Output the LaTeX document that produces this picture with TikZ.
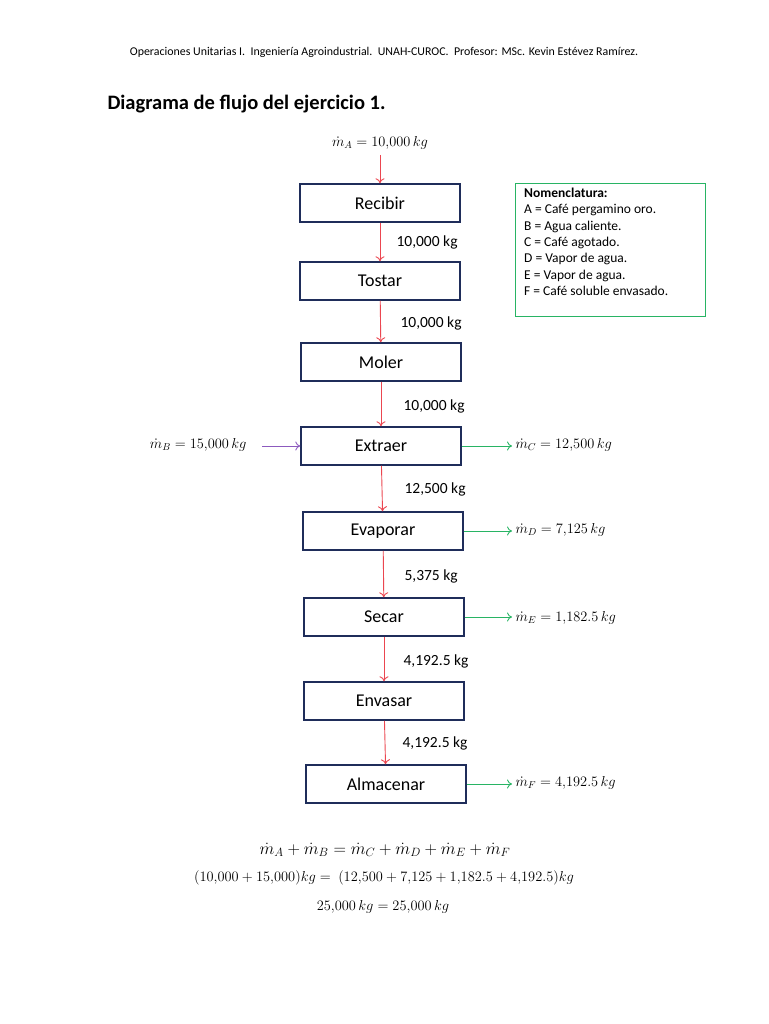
\documentclass[tikz,border=0pt]{standalone}
\usepackage{amsmath}
\usepackage{fontspec}
\setmainfont{Carlito}
\usetikzlibrary{arrows.meta}
\definecolor{navy}{RGB}{31,45,90}
\definecolor{rd}{RGB}{235,70,80}
\definecolor{gr}{RGB}{40,180,100}
\definecolor{pu}{RGB}{140,90,190}
\begin{document}
\begin{tikzpicture}[x=1pt,y=-1pt,
  box/.style={draw=navy,line width=1.5pt,minimum width=160pt,minimum height=38pt,font=\fontsize{18}{21}\selectfont,inner sep=0pt},
  ra/.style={draw=rd,line width=0.9pt,-{To[length=5pt,width=9pt]}},
  ga/.style={draw=gr,line width=0.9pt,-{To[length=5pt,width=9pt]}},
  pa/.style={draw=pu,line width=0.9pt,-{To[length=5pt,width=9pt]}},
  lb/.style={font=\fontsize{15.5}{18}\selectfont,anchor=west},
  mt/.style={font=\fontsize{14.5}{17}\selectfont,anchor=west}]
\useasboundingbox (0,0) rectangle (768,1024);
\node[font=\fontsize{11.9}{14}\selectfont] (hdr) at (384,52) {Operaciones Unitarias I.\ \ Ingeniería Agroindustrial.\ \ UNAH-CUROC.\ \ Profesor: MSc. Kevin Estévez Ramírez.};
\node[font=\bfseries\fontsize{20.5}{24}\selectfont,anchor=west] (tit) at (104,104) {Diagrama de flujo del ejercicio 1.};
\node[mt,anchor=center] (mA) at (380,143) {$\dot m_A = 10{,}000\,kg$};
\coordinate (pA) at (380,155);
\node[box] (b1) at (380,203) {Recibir};
\node[box] (b2) at (380,281) {Tostar};
\node[box] (b3) at (381,362) {Moler};
\node[box] (b4) at (381,446) {Extraer};
\node[box] (b5) at (383,531) {Evaporar};
\node[box] (b6) at (384,617) {Secar};
\node[box] (b7) at (384,701) {Envasar};
\node[box] (b8) at (386,784) {Almacenar};
\draw[ra] (pA) -- (b1);
\draw[ra] (b1) -- (b2);
\draw[ra] (b2) -- (b3);
\draw[ra] (b3) -- (b4);
\draw[ra] (b4) -- (b5);
\draw[ra] (b5) -- (b6);
\draw[ra] (b6) -- (b7);
\draw[ra] (b7) -- (b8);
\node[lb] (l1) at (393,242) {10,000 kg};
\node[lb] (l2) at (397,323) {10,000 kg};
\node[lb] (l3) at (400,406) {10,000 kg};
\node[lb] (l4) at (401,489) {12,500 kg};
\node[lb] (l5) at (401,576) {5,375 kg};
\node[lb] (l6) at (400,661) {4,192.5 kg};
\node[lb] (l7) at (399,743) {4,192.5 kg};
\node[mt,anchor=east] (mB) at (250,445) {$\dot m_B = 15{,}000\,kg$};
\coordinate (pB) at (262,446);
\draw[pa] (pB) -- (b4.west);
\node[mt] (mC) at (512,445) {$\dot m_C = 12{,}500\,kg$};
\node[mt] (mD) at (512,530) {$\dot m_D = 7{,}125\,kg$};
\node[mt] (mE) at (512,618) {$\dot m_E = 1{,}182.5\,kg$};
\node[mt] (mF) at (512,783) {$\dot m_F = 4{,}192.5\,kg$};
\draw[ga] (b4.east) -- (b4.east -| mC.west);
\draw[ga] (b5.east) -- (b5.east -| mD.west);
\draw[ga] (b6.east) -- (b6.east -| mE.west);
\draw[ga] (b8.east) -- (b8.east -| mF.west);
\node[draw=gr,line width=0.8pt,minimum width=190pt,minimum height=133pt,anchor=north west] (nom) at (515,183) {};
\node[anchor=north west,align=left,font=\fontsize{13.5}{16.3}\selectfont,inner sep=0pt] (nomt) at (524,188) {\textbf{Nomenclatura:}\\A = Café pergamino oro.\\B = Agua caliente.\\C = Café agotado.\\D = Vapor de agua.\\E = Vapor de agua.\\F = Café soluble envasado.};
\node[font=\fontsize{17}{20}\selectfont] (e1) at (385,850) {$\dot m_A + \dot m_B = \dot m_C + \dot m_D + \dot m_E + \dot m_F$};
\node[font=\fontsize{15.2}{18}\selectfont] (e2) at (384,878) {$(10{,}000 + 15{,}000)kg =\ (12{,}500 + 7{,}125 + 1{,}182.5 + 4{,}192.5)kg$};
\node[font=\fontsize{15.5}{18}\selectfont] (e3) at (383,907) {$25{,}000\,kg = 25{,}000\,kg$};
\end{tikzpicture}
\end{document}
